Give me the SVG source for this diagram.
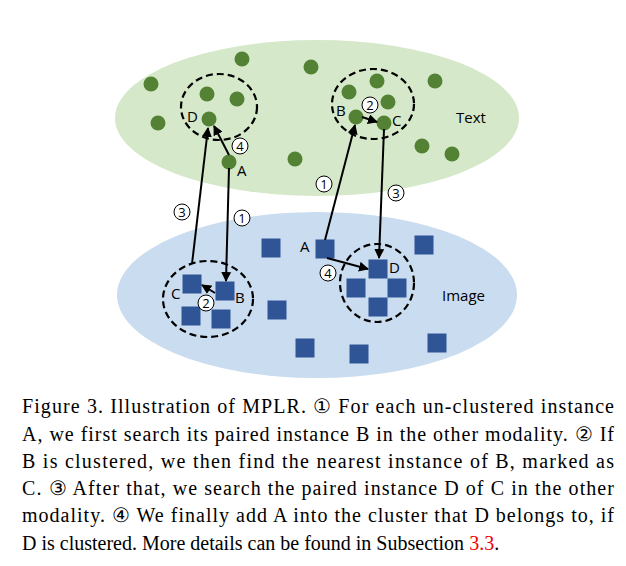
<svg xmlns="http://www.w3.org/2000/svg" width="626" height="566" viewBox="0 0 626 566">
<defs>
<style>
.dot{fill:#548235}
.sq{fill:#2f5597}
.cl{fill:none;stroke:#000;stroke-width:2.2;stroke-dasharray:7,4}
.ar{stroke:#000;stroke-width:2;fill:none;marker-end:url(#ah)}
.lb{font-family:"Open Sans","Liberation Sans",sans-serif;font-size:15px;fill:#000}
.cn{fill:#fff;stroke:#000;stroke-width:1}
.cnt{font-family:"Open Sans","Liberation Sans",sans-serif;font-size:13px;text-anchor:middle;fill:#000}
.cap{font-family:"Liberation Serif",serif;font-size:20px;fill:#000}
</style>
<marker id="ah" viewBox="0 0 10 10" refX="9" refY="5" markerWidth="5" markerHeight="5" orient="auto"><path d="M0,0 L10,5 L0,10 z" fill="#000"/></marker>
<symbol id="s" overflow="visible"><rect x="-9.5" y="-9.5" width="19" height="19" class="sq"/></symbol>
</defs>
<g id="text-region"><ellipse cx="317" cy="118" rx="202" ry="78" fill="#d5e8c9"/><text class="lb" x="456" y="123">Text</text></g>
<g id="image-region"><ellipse cx="317" cy="295" rx="200" ry="83" fill="#cadcef"/><text class="lb" x="442" y="301">Image</text></g>
<g id="text-points">
<circle class="dot" cx="242" cy="59" r="7.5"/><circle class="dot" cx="151" cy="84" r="7.5"/><circle class="dot" cx="311" cy="67" r="7.5"/>
<circle class="dot" cx="207" cy="94" r="7.5"/><circle class="dot" cx="237" cy="99" r="7.5"/><circle class="dot" cx="158" cy="123" r="7.5"/>
<circle class="dot" cx="209" cy="119" r="7.5"/><circle class="dot" cx="229" cy="162" r="7.5"/><circle class="dot" cx="295" cy="159" r="7.5"/>
<circle class="dot" cx="377" cy="81" r="7.5"/><circle class="dot" cx="349" cy="92" r="7.5"/><circle class="dot" cx="388" cy="102" r="7.5"/>
<circle class="dot" cx="356" cy="117" r="7.5"/><circle class="dot" cx="384" cy="123" r="7.5"/><circle class="dot" cx="435" cy="81" r="7.5"/>
<circle class="dot" cx="422" cy="146" r="7.5"/><circle class="dot" cx="452" cy="154" r="7.5"/>
</g>
<g id="image-points">
<use href="#s" x="271" y="248"/><use href="#s" x="325" y="249"/><use href="#s" x="424" y="245"/><use href="#s" x="378" y="269"/>
<use href="#s" x="356" y="288"/><use href="#s" x="397" y="288"/><use href="#s" x="378" y="307"/><use href="#s" x="192" y="284"/>
<use href="#s" x="225" y="291"/><use href="#s" x="191" y="316"/><use href="#s" x="221" y="319"/><use href="#s" x="277" y="310"/>
<use href="#s" x="305" y="348"/><use href="#s" x="359" y="354"/><use href="#s" x="437" y="343"/>
</g>
<g id="clusters">
<ellipse class="cl" cx="219" cy="107" rx="38" ry="33"/><ellipse class="cl" cx="373" cy="104" rx="41" ry="35"/>
<ellipse class="cl" cx="208" cy="299" rx="45" ry="38"/><ellipse class="cl" cx="377" cy="283" rx="37" ry="39"/>
</g>
<g id="connectors">
<line class="ar" x1="192" y1="264" x2="208" y2="128"/>
<line class="ar" x1="229" y1="168" x2="226" y2="281"/>
<line class="ar" x1="229" y1="155" x2="214" y2="126"/>
<line class="ar" x1="215" y1="293" x2="202" y2="285"/>
<line class="ar" x1="325" y1="240" x2="355" y2="125"/>
<line class="ar" x1="362" y1="117" x2="377" y2="122"/>
<line class="ar" x1="384" y1="129" x2="379" y2="258"/>
<line class="ar" x1="327" y1="258" x2="368" y2="269"/>
</g>
<g id="labels">
<text class="lb" x="187" y="122">D</text><text class="lb" x="237" y="176">A</text>
<text class="lb" x="336" y="116">B</text><text class="lb" x="392" y="126">C</text>
<text class="lb" x="300" y="252">A</text><text class="lb" x="389" y="273">D</text>
<text class="lb" x="171" y="299">C</text><text class="lb" x="235" y="303">B</text>
<circle class="cn" cx="240" cy="146" r="8"/><text class="cnt" x="240" y="151">4</text>
<circle class="cn" cx="370" cy="105" r="8"/><text class="cnt" x="370" y="110">2</text>
<circle class="cn" cx="324" cy="184" r="8"/><text class="cnt" x="324" y="189">1</text>
<circle class="cn" cx="396" cy="193" r="8"/><text class="cnt" x="396" y="198">3</text>
<circle class="cn" cx="182" cy="212" r="8"/><text class="cnt" x="182" y="217">3</text>
<circle class="cn" cx="242" cy="218" r="8"/><text class="cnt" x="242" y="223">1</text>
<circle class="cn" cx="328" cy="273" r="8"/><text class="cnt" x="328" y="278">4</text>
<circle class="cn" cx="206" cy="303" r="8"/><text class="cnt" x="206" y="308">2</text>
</g>
<g id="caption">
<text class="cap" x="22" y="413" textLength="592" lengthAdjust="spacing">Figure 3. Illustration of MPLR. ① For each un-clustered instance</text>
<text class="cap" x="22" y="441" textLength="592" lengthAdjust="spacing">A, we first search its paired instance B in the other modality. ② If</text>
<text class="cap" x="22" y="468" textLength="592" lengthAdjust="spacing">B is clustered, we then find the nearest instance of B, marked as</text>
<text class="cap" x="22" y="495" textLength="592" lengthAdjust="spacing">C. ③ After that, we search the paired instance D of C in the other</text>
<text class="cap" x="22" y="522" textLength="592" lengthAdjust="spacing">modality. ④ We finally add A into the cluster that D belongs to, if</text>
<text class="cap" x="22" y="550">D is clustered. More details can be found in Subsection <tspan fill="#e00">3.3</tspan>.</text>
</g>
</svg>
